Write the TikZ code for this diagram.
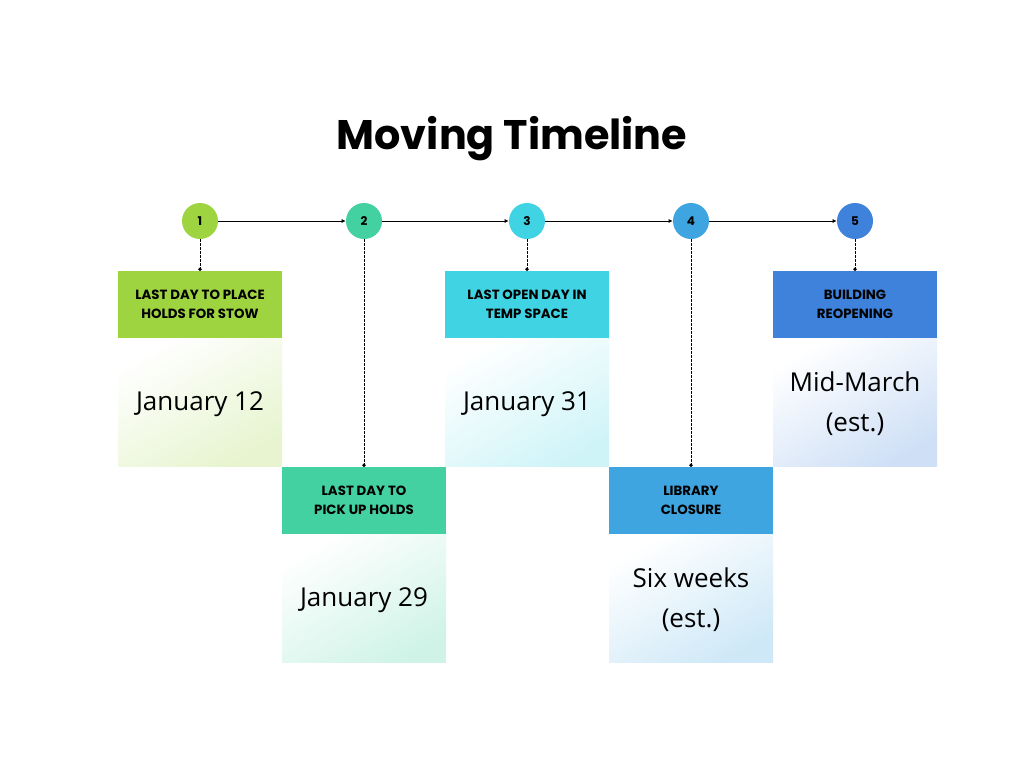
\documentclass[tikz,border=0pt]{standalone}
\usepackage{fontspec}
\setmainfont{Open Sans}
\newfontfamily\headfont{Poppins}
\usetikzlibrary{arrows.meta}
\definecolor{cA}{HTML}{9ED43F}
\definecolor{cB}{HTML}{43D1A1}
\definecolor{cC}{HTML}{3FD3E3}
\definecolor{cD}{HTML}{3FA5E0}
\definecolor{cE}{HTML}{3F82DC}
\tikzset{
	stepdot/.style={circle,minimum size=27pt,inner sep=0pt,font=\headfont\bfseries\fontsize{9}{10}\selectfont},
	headbox/.style={minimum width=123pt,minimum height=50pt,inner sep=0pt,align=center,
		font=\headfont\bfseries\fontsize{10}{14}\selectfont},
	flow/.style={-{Latex[length=3pt,width=3pt]},line width=0.6pt},
	drop/.style={dashed,dash pattern=on 2pt off 1pt,line width=0.6pt,-{Circle[length=2.5pt]}}
}
\begin{document}
\begin{tikzpicture}[x=0.75pt,y=-0.75pt]
	\useasboundingbox[fill=white] (0,0) rectangle (1024,768);
	\node[font=\headfont\bfseries\fontsize{31}{36}\selectfont] (title) at (512,139) {Moving Timeline};
	% columns: x, colour, header top, text
	\foreach \n/\x/\c/\t/\h/\d in {
		1/200/cA/271/{LAST DAY TO PLACE\\HOLDS FOR STOW}/{January 12},
		2/364/cB/467/{LAST DAY TO\\PICK UP HOLDS}/{January 29},
		3/527/cC/271/{LAST OPEN DAY IN\\TEMP SPACE}/{January 31},
		4/691/cD/467/{LIBRARY\\CLOSURE}/{Six weeks\\(est.)},
		5/855/cE/271/{BUILDING\\REOPENING}/{Mid-March\\(est.)}}{
		\shade[top color=white,bottom color=\c!25,shading angle=30] (\x-82,\t+67) rectangle (\x+82,\t+195);
		\node[stepdot,fill=\c] (s\n) at (\x,221) {\n};
		\node[headbox,fill=\c] (h\n) at (\x,\t+33.5) {\h};
		\node[align=center,font=\fontsize{19.5}{30}\selectfont] (b\n) at (\x,\t+133) {\d};
		\draw[drop] (s\n) -- (h\n.north);
	}
	\foreach \a/\b in {1/2,2/3,3/4,4/5}{
		\draw[flow] (s\a) -- (s\b);
	}
\end{tikzpicture}
\end{document}
